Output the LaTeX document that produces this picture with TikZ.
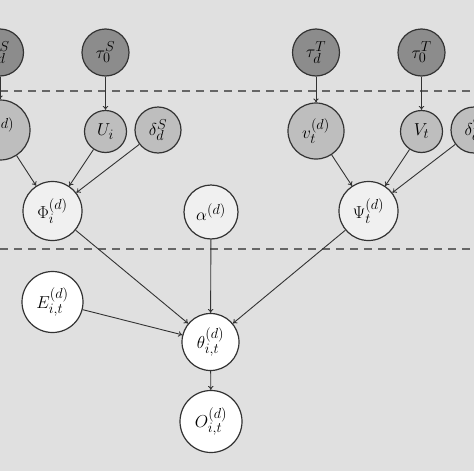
\documentclass[tikz,border=0pt]{standalone}
\usetikzlibrary{arrows.meta}
\definecolor{bg}{HTML}{E0E0E0}
\definecolor{darkn}{HTML}{8C8C8C}
\definecolor{midn}{HTML}{BEBEBE}
\definecolor{lightn}{HTML}{F0F0F0}
\definecolor{edge}{HTML}{333333}
\begin{document}
\begin{tikzpicture}[x=1pt,y=-1pt,
  nd/.style={circle,draw=edge,line width=1.2pt,inner sep=0pt,font=\fontsize{19}{22}\selectfont},
  topn/.style={nd,fill=darkn,minimum size=47pt},
  midnode/.style={nd,fill=midn},
  lown/.style={nd,fill=lightn},
  obsn/.style={nd,fill=white},
  arr/.style={draw=edge,line width=0.9pt,-{To[length=4pt,width=5.5pt]}},
  sep/.style={draw=black!60,line width=1.1pt,dash pattern=on 8pt off 6pt}]
\useasboundingbox (0,0) rectangle (474,474);
\clip (0,0) rectangle (474,474);
\fill[bg] (0,0) rectangle (474,471);
% separators
\draw[sep] (0,91) -- (474,91);
\draw[sep] (0,249) -- (474,249);
% top row
\node[topn] (tdS) at (0,52.5) {$\tau_d^S$};
\node[topn] (t0S) at (105.5,52.5) {$\tau_0^S$};
\node[topn] (tdT) at (316,52.5) {$\tau_d^T$};
\node[topn] (t0T) at (421.5,52.5) {$\tau_0^T$};
% second row
\node[midnode,minimum size=60pt] (ud) at (0,130) {$u_i^{(d)}$};
\node[midnode,minimum size=42pt] (Ui) at (105.5,131.5) {$U_i$};
\node[midnode,minimum size=46pt] (dS) at (158,130) {$\delta_d^S$};
\node[midnode,minimum size=56pt] (vd) at (316,131) {$v_t^{(d)}$};
\node[midnode,minimum size=42pt] (Vt) at (421.5,131.5) {$V_t$};
\node[midnode,minimum size=46pt] (dT) at (474,130) {$\delta_d^T$};
% third row
\node[lown,minimum size=59pt] (Phi) at (52.5,211) {$\Phi_i^{(d)}$};
\node[lown,minimum size=54pt] (alpha) at (211,212) {$\alpha^{(d)}$};
\node[lown,minimum size=59pt] (Psi) at (368.5,211) {$\Psi_t^{(d)}$};
% observed
\node[obsn,minimum size=61pt] (E) at (52.5,302) {$E_{i,t}^{(d)}$};
\node[obsn,minimum size=57pt] (theta) at (210.5,342) {$\theta_{i,t}^{(d)}$};
\node[obsn,minimum size=62pt] (O) at (211,421.5) {$O_{i,t}^{(d)}$};
% edges
\draw[arr] (tdS) -- (ud);
\draw[arr] (t0S) -- (Ui);
\draw[arr] (tdT) -- (vd);
\draw[arr] (t0T) -- (Vt);
\draw[arr] (ud) -- (Phi);
\draw[arr] (Ui) -- (Phi);
\draw[arr] (dS) -- (Phi);
\draw[arr] (vd) -- (Psi);
\draw[arr] (Vt) -- (Psi);
\draw[arr] (dT) -- (Psi);
\draw[arr] (Phi) -- (theta);
\draw[arr] (alpha) -- (theta);
\draw[arr] (Psi) -- (theta);
\draw[arr] (E) -- (theta);
\draw[arr] (theta) -- (O);
\end{tikzpicture}
\end{document}
